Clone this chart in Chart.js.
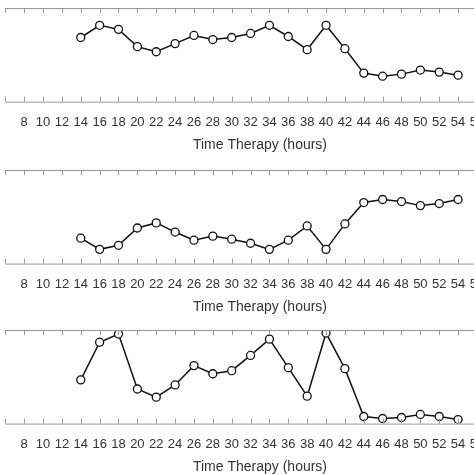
<!DOCTYPE html>
<html><head><meta charset="utf-8">
<script src="https://cdn.jsdelivr.net/npm/chart.js@4"></script>
<style>
html,body{margin:0;padding:0;background:#fff;width:474px;height:474px;overflow:hidden;position:relative}
.p{position:absolute;left:0;width:520px;height:160px}
</style></head><body>
<div class="p" id="d0" style="top:-2px"><canvas id="c0"></canvas></div>
<div class="p" id="d1" style="top:160px"><canvas id="c1"></canvas></div>
<div class="p" id="d2" style="top:320px"><canvas id="c2"></canvas></div>
<script>
const hours = [14,16,18,20,22,24,26,28,30,32,34,36,38,40,42,44,46,48,50,52,54];
// values read as depth below each panel's top border (reverse scale, 0..92)
const series1 = [29,17,21,38,43,35,27,31,29,25,17,28,41,17,40,64,67,65,61,63,66];
const series2 = [67,78,74,57,52,61,69,65,68,72,78,69,55,78,53,32,29,31,35,33,29];
const series3 = [49,12,4,58,66,54,35,43,40,25,9,37,65,3,38,85,87,86,83,85,88];
const tickLabels = [8,10,12,14,16,18,20,22,24,26,28,30,32,34,36,38,40,42,44,46,48,50,52,54,56,58];
const xTitle = 'Time Therapy (hours)';
const allSeries = [series1, series2, series3];

const frame = {
  id:'frame',
  afterDraw(ch){
    const {ctx, chartArea:a} = ch; const xs = ch.scales.x;
    ctx.save(); ctx.strokeStyle='#999'; ctx.lineWidth=1;
    ctx.beginPath();
    ctx.moveTo(a.left,a.top+0.5); ctx.lineTo(a.right,a.top+0.5);
    ctx.moveTo(a.left,a.bottom+0.5); ctx.lineTo(a.right,a.bottom+0.5);
    for(let h=6;h<=60;h+=2){
      const x=Math.round(xs.getPixelForValue(h))+0.5;
      ctx.moveTo(x,a.top); ctx.lineTo(x,a.top+5);
      ctx.moveTo(x,a.bottom); ctx.lineTo(x,a.bottom-5);
    }
    ctx.stroke(); ctx.restore();
  }
};
allSeries.forEach((s,i)=>{
  new Chart(document.getElementById('c'+i),{
    type:'line',
    data:{datasets:[{data:hours.map((h,k)=>({x:h,y:s[k]})),borderColor:'#111',borderWidth:1.5,
      pointRadius:4,pointBackgroundColor:'#fff',pointBorderColor:'#111',pointBorderWidth:1.3,tension:0}]},
    options:{responsive:true,maintainAspectRatio:false,animation:false,
      layout:{padding:{top:10,left:0,right:0,bottom:0}},
      plugins:{legend:{display:false},tooltip:{enabled:false}},
      scales:{
        x:{type:'linear',min:6,max:60,grid:{display:false},border:{display:false},
          afterBuildTicks(sc){sc.ticks=tickLabels.map(v=>({value:v}));},
          afterFit(sc){sc.paddingLeft=0;sc.paddingRight=0;},
          ticks:{autoSkip:false,maxRotation:0,color:'#333',font:{family:'Liberation Sans, Arial',size:13},padding:5},
          title:{display:true,text:xTitle,color:'#333',font:{family:'Liberation Sans, Arial',size:14},padding:{top:2,bottom:4}}},
        y:{display:false,reverse:true,min:0,max:92}
      }},
    plugins:[frame]
  });
});
</script></body></html>
